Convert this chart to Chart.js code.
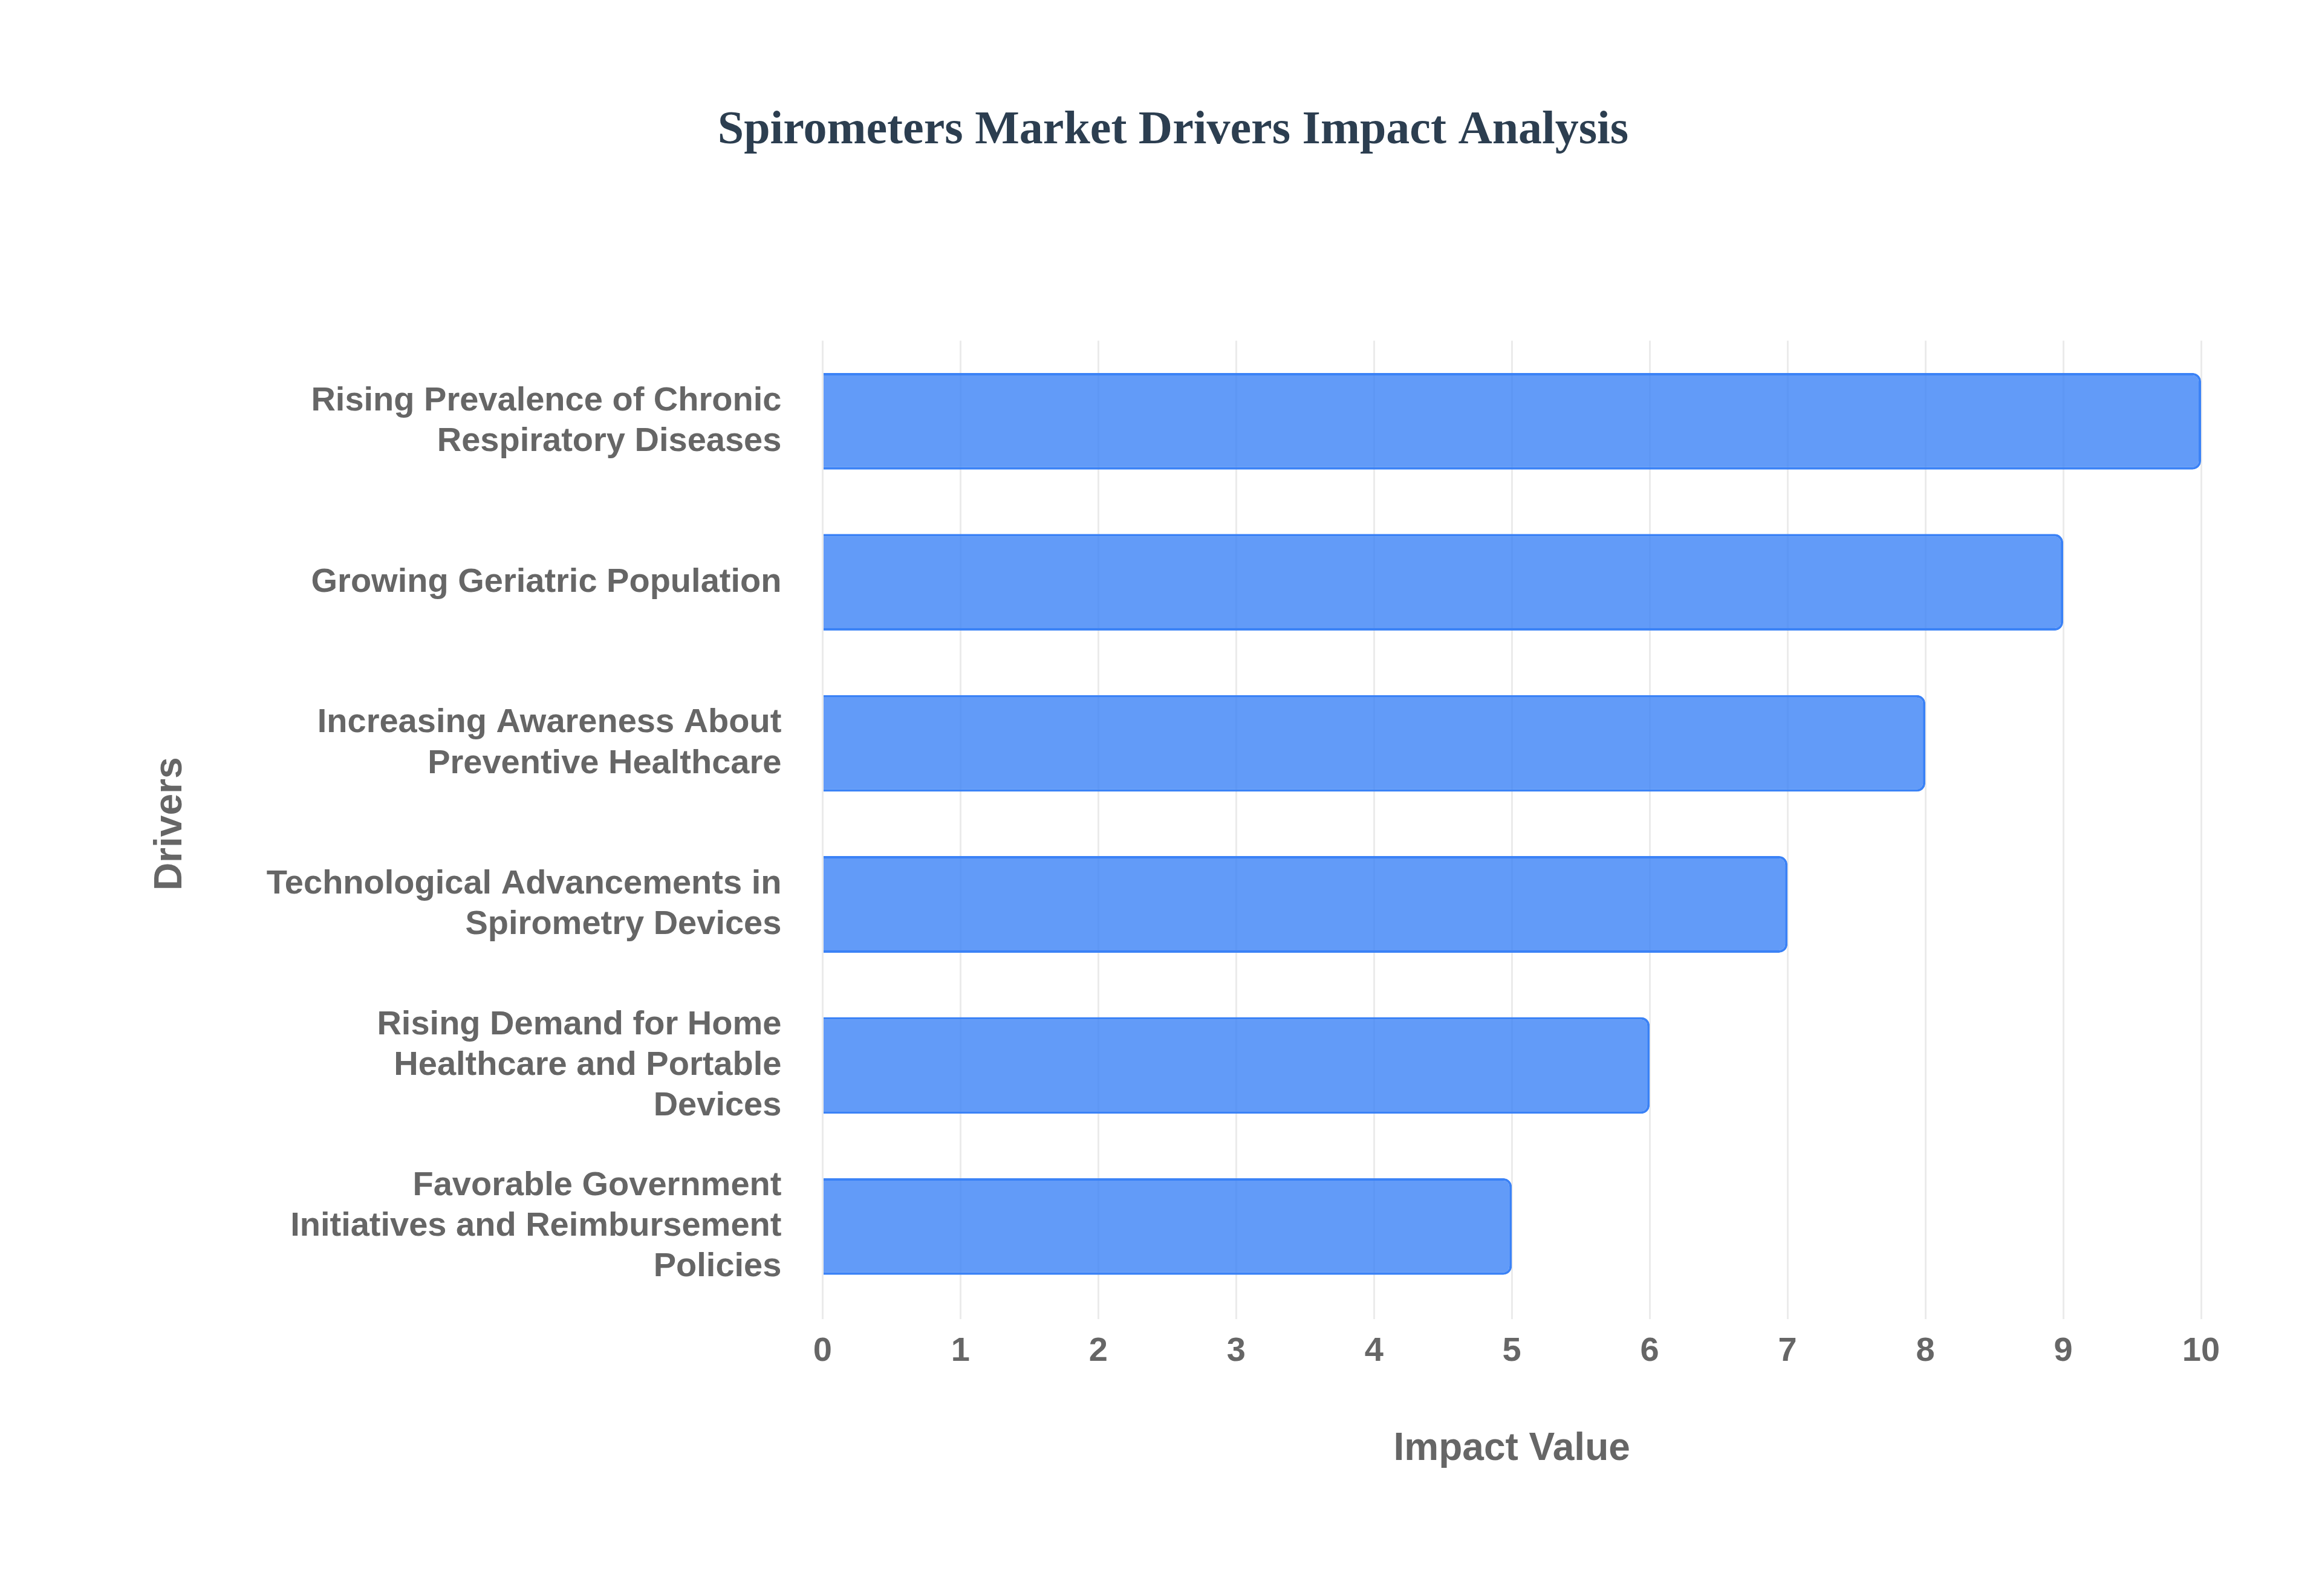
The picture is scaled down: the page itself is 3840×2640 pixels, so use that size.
<!DOCTYPE html>
<html>
<head>
<meta charset="utf-8">
<script src="https://cdn.jsdelivr.net/npm/chart.js@4"></script>
<style>
  html, body { margin: 0; padding: 0; background: #fff; }
  #wrap { width: 3840px; height: 2640px; }
</style>
</head>
<body>
<div id="wrap"><canvas id="chart" width="3840" height="2640"></canvas></div>
<script>
const drivers = [
  ["Rising Prevalence of Chronic", "Respiratory Diseases"],
  ["Growing Geriatric Population"],
  ["Increasing Awareness About", "Preventive Healthcare"],
  ["Technological Advancements in", "Spirometry Devices"],
  ["Rising Demand for Home", "Healthcare and Portable", "Devices"],
  ["Favorable Government", "Initiatives and Reimbursement", "Policies"]
];
const impactValues = [10, 9, 8, 7, 6, 5];

const tickFont = { family: "'Liberation Sans', Arial, sans-serif", size: 56, weight: "bold" };
const gray = "#666666";

new Chart(document.getElementById("chart"), {
  type: "bar",
  data: {
    labels: drivers,
    datasets: [{
      label: "Impact Value",
      data: impactValues,
      backgroundColor: "rgba(59, 130, 246, 0.8)",
      borderColor: "#3b82f6",
      borderWidth: 4,
      borderRadius: 14,
      borderSkipped: "start",
      barPercentage: 0.75,
      categoryPercentage: 0.8
    }]
  },
  options: {
    indexAxis: "y",
    responsive: false,
    animation: false,
    devicePixelRatio: 1,
    layout: { padding: { left: 240, right: 200, top: 170, bottom: 200 } },
    plugins: {
      legend: { display: false },
      tooltip: { enabled: false },
      title: {
        display: true,
        text: "Spirometers Market Drivers Impact Analysis",
        color: "#2c3e50",
        font: { family: "'Liberation Serif', 'Times New Roman', serif", size: 78, weight: "bold" },
        padding: { top: 0, bottom: 300 }
      }
    },
    scales: {
      x: {
        min: 0,
        max: 10,
        ticks: { stepSize: 1, color: gray, font: tickFont, padding: 20 },
        grid: { color: "rgba(0,0,0,0.08)", lineWidth: 3, tickLength: 20 },
        border: { display: false },
        title: {
          display: true,
          text: "Impact Value",
          color: gray,
          font: { family: "'Liberation Sans', Arial, sans-serif", size: 64, weight: "bold" },
          padding: { top: 70 }
        }
      },
      y: {
        ticks: { color: gray, font: tickFont, padding: 60 },
        grid: { display: false },
        border: { display: false },
        title: {
          display: true,
          text: "Drivers",
          color: gray,
          font: { family: "'Liberation Sans', Arial, sans-serif", size: 64, weight: "bold" },
          padding: { bottom: 60 }
        }
      }
    }
  }
});
</script>
</body>
</html>
